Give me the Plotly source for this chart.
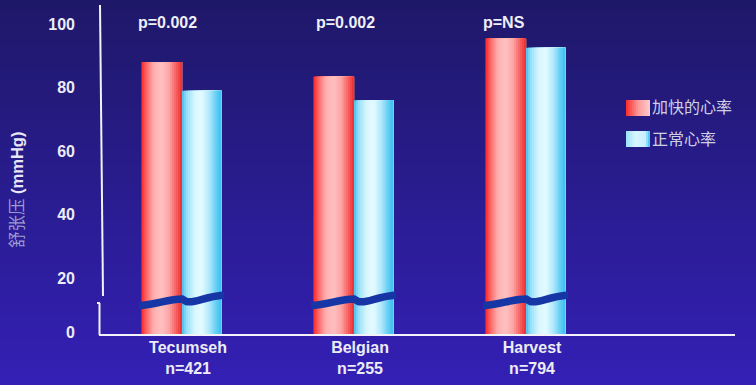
import plotly.graph_objects as go

# ---------------- data ----------------
categories = ["Tecumseh", "Belgian", "Harvest"]
sample_sizes = ["n=421", "n=255", "n=794"]
p_values = ["p=0.002", "p=0.002", "p=NS"]
fast_hr = [88.0, 83.5, 95.5]      # 加快的心率
normal_hr = [79.0, 76.0, 92.5]    # 正常心率
y_tick_vals = [3, 20, 40, 60, 80, 100]   # "0" sits at the axis break
y_tick_text = ["0", "20", "40", "60", "80", "100"]
series_names = ["加快的心率", "正常心率"]

# ---------------- geometry ----------------
W, H = 756, 385
ML, MR, MT, MB = 100, 21, 5, 50
PW, PH = W - ML - MR, H - MT - MB
XR = [-0.477, 3.215]
YR = [2.05, 105.98]
xpos = list(range(len(categories)))

def px2paper(px, py):
    return (px - ML) / PW, (H - MB - py) / PH

def lerp_color(stops, t):
    for i in range(len(stops) - 1):
        t0, c0 = stops[i]
        t1, c1 = stops[i + 1]
        if t0 <= t <= t1:
            f = (t - t0) / (t1 - t0) if t1 > t0 else 0
            c = [round(c0[k] + (c1[k] - c0[k]) * f) for k in range(3)]
            return "rgb(%d,%d,%d)" % tuple(c)
    return "rgb(%d,%d,%d)" % tuple(stops[-1][1])

red_stops = [(0, (255, 35, 35)), (0.12, (255, 100, 100)), (0.3, (255, 175, 175)),
             (0.5, (255, 192, 192)), (0.68, (252, 165, 165)), (0.86, (245, 95, 95)),
             (1, (235, 45, 45))]
cyan_stops = [(0, (70, 192, 240)), (0.12, (150, 224, 250)), (0.32, (215, 246, 255)),
              (0.5, (228, 251, 255)), (0.7, (175, 232, 252)), (0.88, (95, 205, 245)),
              (1, (60, 192, 240))]

fig = go.Figure()

N = 20
def add_gradient_bar(vals, start, width, stops, name):
    # strips stacked left->right, each extending to the bar's right edge (no seams)
    sw = width / N
    for i in range(N):
        t = (i + 0.5) / N
        w = width - i * sw
        fig.add_trace(go.Bar(
            x=xpos, y=vals, base=0, width=[w] * len(xpos), offset=start + i * sw,
            marker=dict(color=lerp_color(stops, t), line=dict(width=0)),
            showlegend=False, name=name, hoverinfo="skip"))

add_gradient_bar(fast_hr, -0.236, 0.236, red_stops, series_names[0])
add_gradient_bar(normal_hr, 0.0, 0.228, cyan_stops, series_names[1])

shapes = []
# background gradient
top_c = (30, 24, 104)
bot_c = (52, 32, 182)
NS = 77
for i in range(NS):
    py0 = i * H / NS
    py1 = H + 2
    f = (i + 0.5) / NS
    c = tuple(round(top_c[k] + (bot_c[k] - top_c[k]) * f) for k in range(3))
    x0, y0 = px2paper(-2, py1)
    x1, y1 = px2paper(W + 2, py0)
    shapes.append(dict(type="rect", xref="paper", yref="paper", x0=x0, x1=x1, y0=y0, y1=y1,
                       fillcolor="rgb(%d,%d,%d)" % c, line=dict(width=0), layer="below"))

# axis lines (broken y axis)
def pline(p0, p1, width=2, color="#f2f2f8"):
    a = px2paper(*p0); b = px2paper(*p1)
    shapes.append(dict(type="line", xref="paper", yref="paper", x0=a[0], y0=a[1], x1=b[0], y1=b[1],
                       line=dict(color=color, width=width)))

pline((100, 5), (103, 296))
pline((97, 303), (100, 303))
pline((99.5, 303), (99.5, 335))
pline((99, 335), (735, 335))

# wavy break marks across each bar pair
def yv(py):
    return 100 - (py - 24) / 3.175

for c in xpos:
    path = ("M {a},{b} C {c1},{d1} {c2},{d2} {e},{f} "
            "L {g},{h} C {i1},{j1} {i2},{j2} {k},{l}").format(
        a=c - 0.25, b=yv(305.5),
        c1=c - 0.16, d1=yv(305), c2=c - 0.08, d2=yv(299), e=c + 0.0, f=yv(299),
        g=c + 0.025, h=yv(301.5),
        i1=c + 0.08, j1=yv(303.5), i2=c + 0.12, j2=yv(297), k=c + 0.245, l=yv(295))
    shapes.append(dict(type="path", xref="x", yref="y", path=path,
                       line=dict(color="#1636a6", width=7.5)))

# legend swatches (manual, gradient)
def swatch(px0, py0, px1, py1, stops):
    n = 12
    for i in range(n):
        a = px2paper(px0 + (px1 - px0) * i / n, py1)
        b = px2paper(px1, py0)
        shapes.append(dict(type="rect", xref="paper", yref="paper", x0=a[0], y0=a[1], x1=b[0], y1=b[1],
                           fillcolor=lerp_color(stops, (i + 0.5) / n), line=dict(width=0)))

swatch(626, 100, 650, 116, [(0, (255, 40, 40)), (0.5, (255, 150, 150)), (1, (255, 205, 205))])
swatch(626, 131, 650, 147, [(0, (150, 225, 250)), (0.4, (215, 246, 255)), (0.8, (200, 240, 255)), (1, (60, 190, 240))])

annotations = []
for text, py in zip(series_names, [106, 138]):
    x, y = px2paper(650, py)
    annotations.append(dict(text=text, xref="paper", yref="paper", x=x, y=y, xanchor="left",
                            yanchor="middle", showarrow=False,
                            font=dict(family="Noto Sans CJK SC", size=16, color="#cfcfe4")))

# p-value labels
p_shift = [-5, 1, -4]
for c, p, s in zip(xpos, p_values, p_shift):
    annotations.append(dict(text="<b>%s</b>" % p, xref="x", yref="paper", x=c - 0.236,
                            y=px2paper(0, 22)[1], xanchor="left", yanchor="middle", xshift=s,
                            showarrow=False,
                            font=dict(family="Liberation Sans", size=16, color="#eeeef8")))

# y axis title
tx, ty = px2paper(17, 190)
annotations.append(dict(
    text='<span style="color:#9c9cd0">舒张压</span> <b>(mmHg)</b>',
    xref="paper", yref="paper", x=tx, y=ty, textangle=-90, showarrow=False,
    xanchor="center", yanchor="middle",
    font=dict(family="Liberation Sans, Noto Sans CJK SC", size=16.5, color="#e8e8f4")))

fig.update_layout(
    width=W, height=H,
    margin=dict(l=ML, r=MR, t=MT, b=MB),
    paper_bgcolor="#26208a", plot_bgcolor="rgba(0,0,0,0)",
    barmode="overlay", showlegend=False,
    shapes=shapes, annotations=annotations,
    xaxis=dict(range=XR, showgrid=False, zeroline=False, showline=False,
               tickvals=xpos,
               ticktext=["<b>%s</b><br><b>%s</b>" % (a, b) for a, b in zip(categories, sample_sizes)],
               ticks="", ticklabelshift=6, ticklabelstandoff=1,
               tickfont=dict(family="Liberation Sans", size=16, color="#ececf6")),
    yaxis=dict(range=YR, showgrid=False, zeroline=False, showline=False,
               tickvals=y_tick_vals, ticktext=["<b>%s</b>" % t for t in y_tick_text],
               ticks="", ticklabelstandoff=24,
               tickfont=dict(family="Liberation Sans", size=16, color="#ececf6")),
)

fig.write_html("out.html", config={"displayModeBar": False},
               post_script="document.body.style.margin='0px';document.body.style.overflow='hidden';")
